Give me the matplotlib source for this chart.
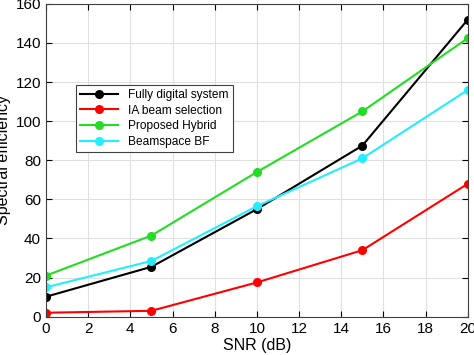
import matplotlib.pyplot as plt
import numpy as np

plt.rcParams['font.family'] = ['Liberation Sans', 'DejaVu Sans']

snr = [0, 5, 10, 15, 20]
fully_digital = [10.2, 25.5, 55, 87.5, 152]
ia_beam = [2, 3, 17.5, 34, 68]
proposed = [21, 41.5, 74, 105, 142.5]
beamspace = [15, 28.5, 56.5, 81, 116]

labels = ['Fully digital system', 'IA beam selection', 'Proposed Hybrid', 'Beamspace BF']
colors = ['black', 'red', '#22dd22', '#22eeff']

fig = plt.figure(figsize=(4.74, 3.55), dpi=100)
ax = fig.add_axes([0.097, 0.108, 0.890, 0.881])

for y, lab, c in zip([fully_digital, ia_beam, proposed, beamspace], labels, colors):
    ax.plot(snr, y, color=c, marker='o', markersize=5.5, linewidth=1.5, label=lab)

ax.set_xlim(0, 20)
ax.set_ylim(0, 160)
ax.set_xticks(np.arange(0, 21, 2))
ax.set_yticks(np.arange(0, 161, 20))
ax.grid(True, color='#e0e0e0', linewidth=0.8)
ax.set_axisbelow(True)
ax.tick_params(direction='in', top=True, right=True, labelsize=11, length=4)
for s in ax.spines.values():
    s.set_color('#404040')
ax.set_xlabel('SNR (dB)', fontsize=11.5, labelpad=2)
ax.set_ylabel('Spectral efficiency', fontsize=11.5, labelpad=3)

leg = ax.legend(loc='upper left', bbox_to_anchor=(0.071, 0.741), fontsize=8.6,
                fancybox=False, edgecolor='#404040', framealpha=1,
                handlelength=3.2, borderpad=0.35, labelspacing=0.3,
                borderaxespad=0)
leg.get_frame().set_linewidth(0.8)

fig.savefig('out.png', dpi=100)
